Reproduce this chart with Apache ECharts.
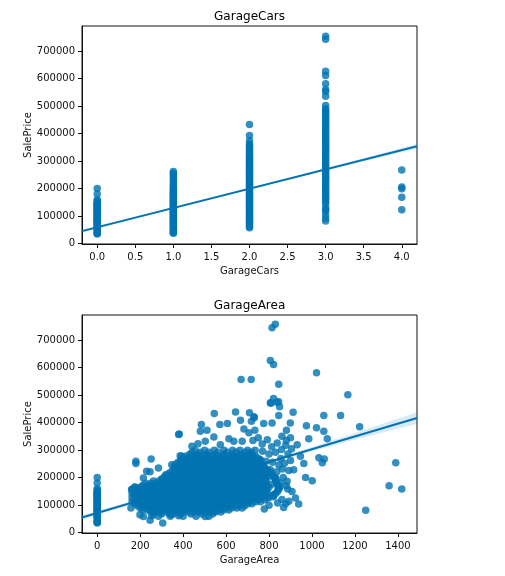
<!DOCTYPE html>
<html><head><meta charset="utf-8">
<script src="https://cdn.jsdelivr.net/npm/echarts@6/dist/echarts.min.js"></script>
<style>html,body{margin:0;padding:0;background:#fff;}#c{width:505px;height:576px;}</style>
</head><body><div id="c"></div>
<script>
// ---- tick labels ----
const carsTicks = [0, 0.5, 1, 1.5, 2, 2.5, 3, 3.5, 4];
const areaTicks = [0, 200, 400, 600, 800, 1000, 1200, 1400];
const priceTicks = [0, 100000, 200000, 300000, 400000, 500000, 600000, 700000];

// ---- SalePrice of houses without garage (GarageCars = 0, GarageArea = 0) ----
const noGaragePrices = [34900, 37900, 40000, 45000, 52000, 55000, 60000, 62500, 67000, 72500, 76000, 80000, 82000, 85000, 87000, 90000, 93500, 97000, 100000, 104000, 108000, 110000, 114000, 118000, 120000, 124000, 127000, 130000, 135000, 139000, 140000, 143000, 145000, 150000, 155000, 160000, 181000, 200500];

// ---- GarageCars columns ----
const cars1Prices = [37900, 40000, 45000, 50000, 55500, 60000, 64000, 68500, 72000, 76000, 80500, 84000, 88000, 92500, 96000, 100000, 104500, 108000, 112000, 116500, 120000, 124000, 128500, 132000, 136000, 140500, 144000, 148000, 152500, 156000, 160000, 165000, 170500, 175000, 180000, 185500, 190000, 195000, 200000, 207000, 214000, 220000, 228000, 235000, 242000, 250000, 256000, 262500];
const cars2Prices = [58300, 62000, 67000, 72500, 77000, 82000, 87500, 92000, 97000, 102500, 107000, 112000, 117500, 122000, 127000, 132500, 137000, 142000, 147500, 152000, 157000, 162500, 167000, 172000, 177500, 182000, 187000, 192500, 197000, 202000, 207500, 212000, 217000, 222500, 227000, 232000, 237500, 242000, 247000, 252500, 257000, 262000, 267500, 272000, 277000, 282500, 287000, 292000, 297500, 302000, 307000, 312500, 318000, 324000, 330500, 337000, 344000, 350000, 356000, 362000, 374500, 392700, 432800];
const cars3Prices = [82800, 92600, 104000, 119000, 123000, 131000, 145000, 153000, 162000, 168000, 175000, 182500, 189000, 196000, 203500, 210000, 217000, 224500, 231000, 238000, 245500, 252000, 259000, 266500, 273000, 280000, 287500, 294000, 301000, 308500, 315000, 322000, 329500, 336000, 343000, 350500, 357000, 364000, 371500, 378000, 385000, 392500, 399000, 406000, 413500, 420000, 427000, 434500, 441000, 448000, 455500, 462000, 469000, 476500, 483000, 490000, 502000, 536000, 553000, 560000, 581000, 611000, 627000, 742700, 753600];
const cars4Prices = [267600, 205600, 199400, 169200, 122900];

// ---- GarageArea cloud: dense core, one row per price level: [price, [areas]] ----
const areaCoreRows = [
 [300000, [455, 500, 545, 590, 630, 665, 700]],
 [292500, [442, 480, 520, 562, 605, 648, 690, 718]],
 [285000, [430, 470, 510, 550, 590, 630, 670, 710]],
 [277500, [412, 437, 462, 487, 512, 537, 562, 587, 612, 637, 662, 687, 712, 737]],
 [270000, [400, 425, 450, 475, 500, 525, 550, 575, 600, 625, 650, 675, 700, 725, 750]],
 [262500, [387, 412, 437, 462, 487, 512, 537, 562, 587, 612, 637, 662, 687, 712, 737, 762]],
 [255000, [375, 400, 425, 450, 475, 500, 525, 550, 575, 600, 625, 650, 675, 700, 725, 750]],
 [247500, [387, 412, 437, 462, 487, 512, 537, 562, 587, 612, 637, 662, 687, 712, 737, 762]],
 [240000, [375, 400, 425, 450, 475, 500, 525, 550, 575, 600, 625, 650, 675, 700, 725, 750, 775]],
 [232500, [362, 387, 412, 437, 462, 487, 512, 537, 562, 587, 612, 637, 662, 687, 712, 737, 762, 787]],
 [225000, [350, 375, 400, 425, 450, 475, 500, 525, 550, 575, 600, 625, 650, 675, 700, 725, 750, 775, 795]],
 [217500, [337, 362, 387, 412, 437, 462, 487, 512, 537, 562, 587, 612, 637, 662, 687, 712, 737, 762, 787, 810]],
 [210000, [325, 350, 375, 400, 425, 450, 475, 500, 525, 550, 575, 600, 625, 650, 675, 700, 725, 750, 775, 815]],
 [202500, [312, 337, 362, 387, 412, 437, 462, 487, 512, 537, 562, 587, 612, 637, 662, 687, 712, 737, 762, 787, 822]],
 [195000, [300, 325, 350, 375, 400, 425, 450, 475, 500, 525, 550, 575, 600, 625, 650, 675, 700, 725, 750, 775, 830]],
 [187500, [262, 287, 312, 337, 362, 387, 412, 437, 462, 487, 512, 537, 562, 587, 612, 637, 662, 687, 712, 737, 762, 787, 832]],
 [180000, [225, 250, 275, 300, 325, 350, 375, 400, 425, 450, 475, 500, 525, 550, 575, 600, 625, 650, 675, 700, 725, 750, 775, 835]],
 [172500, [212, 237, 262, 287, 312, 337, 362, 387, 412, 437, 462, 487, 512, 537, 562, 587, 612, 637, 662, 687, 712, 737, 762, 787, 842]],
 [165000, [175, 200, 225, 250, 275, 300, 325, 350, 375, 400, 425, 450, 475, 500, 525, 550, 575, 600, 625, 650, 675, 700, 725, 750, 775, 800, 850]],
 [157500, [162, 187, 212, 237, 262, 287, 312, 337, 362, 387, 412, 437, 462, 487, 512, 537, 562, 587, 612, 637, 662, 687, 712, 737, 762, 787, 845]],
 [150000, [175, 200, 225, 250, 275, 300, 325, 350, 375, 400, 425, 450, 475, 500, 525, 550, 575, 600, 625, 650, 675, 700, 725, 750, 775, 790, 840]],
 [142500, [162, 187, 212, 237, 262, 287, 312, 337, 362, 387, 412, 437, 462, 487, 512, 537, 562, 587, 612, 637, 662, 687, 712, 737, 762, 830]],
 [135000, [175, 200, 225, 250, 275, 300, 325, 350, 375, 400, 425, 450, 475, 500, 525, 550, 575, 600, 625, 650, 675, 700, 725, 750, 780, 820]],
 [127500, [162, 187, 212, 237, 262, 287, 312, 337, 362, 387, 412, 437, 462, 487, 512, 537, 562, 587, 612, 637, 662, 687, 712, 737, 762, 787]],
 [120000, [175, 200, 225, 250, 275, 300, 325, 350, 375, 400, 425, 450, 475, 500, 525, 550, 575, 600, 625, 650, 675, 700, 725, 750, 780]],
 [112500, [162, 187, 212, 237, 262, 287, 312, 337, 362, 387, 412, 437, 462, 487, 512, 537, 562, 587, 612, 637, 662, 687, 712, 737]],
 [105000, [175, 200, 225, 250, 275, 300, 325, 350, 375, 400, 425, 450, 475, 500, 525, 550, 575, 600, 625, 650, 675, 700, 720]],
 [97500, [187, 212, 237, 262, 287, 312, 337, 362, 387, 412, 437, 462, 487, 512, 537, 562, 587, 612, 637, 662, 687]],
 [90000, [200, 225, 250, 275, 300, 325, 350, 375, 400, 425, 450, 475, 500, 525, 550, 575, 600, 625, 650]],
 [82500, [212, 237, 262, 287, 312, 337, 362, 387, 412, 437, 462, 487, 512, 537, 562, 587, 612]],
 [75000, [250, 275, 300, 325, 350, 375, 400, 425, 450, 475, 500, 525, 550, 575]],
 [67500, [262, 300, 337, 387, 437, 487, 537]],
 [60000, [285, 340, 400, 460, 520]]
];

// ---- GarageArea cloud: scattered points [area, price] ----
const areaScatter = [
 [180, 259500], [180, 251000], [251, 268000], [285, 235000], [230, 223000], [246, 221000], [347, 247000], [360, 241000], [386, 280000], [379, 357000], [319, 211000], [301, 193000], [215, 199000], [176, 166000], [160, 156000], [157, 90000], [199, 65500], [246, 45000], [305, 35000], [347, 65500], [379, 62000], [254, 62000], [215, 59000],
 [545, 433000], [644, 439000], [709, 436000], [382, 359000], [485, 393000], [480, 369000], [511, 372000], [571, 393000], [606, 397000], [667, 409000], [718, 405000], [730, 421000], [683, 377000], [734, 372000], [706, 363000], [543, 348000], [503, 332000], [441, 314000], [469, 323000], [573, 320000], [613, 341000], [636, 332000], [675, 332000], [394, 278000], [363, 248000], [503, 59000], [535, 84000], [541, 78000], [472, 90000], [675, 90000], [625, 110000], [722, 126000], [722, 163000], [714, 229000], [355, 72000],
 [809, 470000], [837, 474000], [849, 458000], [845, 426000], [912, 438000], [1055, 426000], [974, 389000], [1021, 381000], [1055, 369000], [985, 341000], [1071, 341000], [731, 418000], [775, 397000], [814, 399000], [881, 372000], [899, 399000], [931, 320000], [946, 278000], [962, 251000], [1032, 272000], [1048, 254000], [970, 201000], [1001, 189000], [778, 86000], [892, 114000], [938, 104000], [923, 126000], [884, 187000], [887, 159000], [907, 150000], [798, 126000], [821, 138000], [744, 163000], [775, 211000], [829, 199000], [915, 229000],
 [1167, 501000], [1133, 426000], [1222, 385000], [1021, 581000], [1250, 82000], [1359, 171000], [1390, 254000], [1418, 159000], [1057, 268000], [829, 757000], [814, 745000], [806, 626000], [821, 611000], [670, 557000], [717, 557000], [845, 539000], [821, 488000], [806, 472000], [845, 476000],
 [725, 335000], [750, 345000], [768, 322000], [792, 338000], [812, 312000], [838, 326000], [858, 302000], [878, 318000], [735, 300000], [770, 296000], [800, 286000], [830, 292000], [855, 270000], [888, 286000], [728, 276000], [757, 266000], [786, 260000], [816, 256000], [846, 246000], [872, 252000], [900, 262000], [742, 240000], [776, 236000], [806, 229000], [836, 221000], [862, 231000], [892, 226000], [760, 212000], [800, 206000], [832, 196000], [866, 201000], [852, 181000], [880, 171000], [842, 161000], [812, 176000], [782, 190000], [762, 160000], [736, 150000], [790, 146000], [820, 131000], [860, 121000], [878, 106000], [868, 92000], [880, 335000], [860, 350000], [900, 345000], [905, 305000], [760, 112000], [800, 100000], [840, 108000]
];

// ---- regression lines and confidence bands ----
const carsLineX = [-0.2, 4.2];
const carsLineY = [45600, 354000];
const carsCiX = [-0.2, 0.5, 1.5, 2.5, 3.0, 3.5, 4.2];
const carsCiLow = [39600, 91150, 162550, 232050, 266100, 299450, 345000];
const carsCiHigh = [51600, 98150, 166950, 237650, 273700, 310450, 363000];

const areaLineX = [-70.9, 1488.9];
const areaLineY = [55000, 417000];
const areaCiX = [-70.9, 0, 400, 800, 1000, 1200, 1488.9];
const areaCiLow = [47000, 64500, 161300, 253100, 296000, 337400, 395900];
const areaCiHigh = [63000, 78500, 167300, 261100, 311000, 362400, 437900];

// ---- build data ----
const carsColumns = [[0, noGaragePrices], [1, cars1Prices], [2, cars2Prices], [3, cars3Prices], [4, cars4Prices]];
const carsData = [];
carsColumns.forEach(([c, prices]) => prices.forEach(p => carsData.push([c, p])));
const areaData = [];
noGaragePrices.forEach(p => areaData.push([0, p]));
areaCoreRows.forEach(([p, areas]) => areas.forEach(a => areaData.push([a, p])));
areaScatter.forEach(pt => areaData.push(pt));

const BLUE = '#0173B2';
const TXT = '#111';
const FONT = 'DejaVu Sans';

function xAxisOf(gi, min, max, ticks, fmt, name) {
  return {
    type: 'value', gridIndex: gi, min: min, max: max,
    name: name, nameLocation: 'middle', nameGap: 22, nameMoveOverlap: false,
    nameTextStyle: { fontSize: 10, color: TXT, fontFamily: FONT },
    axisLine: { show: true, onZero: false, lineStyle: { color: TXT, width: 1 } },
    axisTick: { show: true, length: 4, customValues: ticks, lineStyle: { color: TXT, width: 1 } },
    axisLabel: { customValues: ticks, formatter: fmt, fontSize: 10, color: TXT, fontFamily: FONT, margin: 8 },
    splitLine: { show: false }
  };
}
function yAxisOf(gi) {
  return {
    type: 'value', gridIndex: gi, min: -1105, max: 791005,
    name: 'SalePrice', nameLocation: 'middle', nameGap: 49, nameMoveOverlap: false,
    nameTextStyle: { fontSize: 10, color: TXT, fontFamily: FONT },
    axisLine: { show: true, onZero: false, lineStyle: { color: TXT, width: 1 } },
    axisTick: { show: true, length: 4, customValues: priceTicks, lineStyle: { color: TXT, width: 1 } },
    axisLabel: { customValues: priceTicks, formatter: v => String(Math.round(v)), fontSize: 10, color: TXT, fontFamily: FONT, margin: 7 },
    splitLine: { show: false }
  };
}
function bandSeries(gi, xs, lows, highs) {
  return {
    type: 'custom', xAxisIndex: gi, yAxisIndex: gi, z: 3, silent: true, clip: true,
    data: [[xs[0], lows[0]]],
    renderItem: function (params, api) {
      const pts = [];
      for (let i = 0; i < xs.length; i++) pts.push(api.coord([xs[i], highs[i]]));
      for (let i = xs.length - 1; i >= 0; i--) pts.push(api.coord([xs[i], lows[i]]));
      return { type: 'polygon', shape: { points: pts }, style: { fill: 'rgba(1,115,178,0.15)' } };
    }
  };
}
function lineSeries(gi, xs, ys) {
  return {
    type: 'line', xAxisIndex: gi, yAxisIndex: gi, z: 4, silent: true,
    data: xs.map((x, i) => [x, ys[i]]), showSymbol: false, symbol: 'none',
    lineStyle: { color: BLUE, width: 2 }
  };
}
function scatterSeries(gi, data) {
  return {
    type: 'scatter', xAxisIndex: gi, yAxisIndex: gi, z: 2, silent: true,
    data: data, symbol: 'circle', symbolSize: 7.5,
    itemStyle: { color: BLUE, opacity: 0.8 }
  };
}

const chart = echarts.init(document.getElementById('c'), null, { renderer: 'canvas' });
chart.setOption({
  animation: false,
  backgroundColor: '#fff',
  textStyle: { fontFamily: FONT },
  title: [
    { text: 'GarageCars', left: 244.5, top: 6, textAlign: 'center', textStyle: { fontSize: 12, fontWeight: 'normal', color: '#000', fontFamily: FONT } },
    { text: 'GarageArea', left: 244.5, top: 295, textAlign: 'center', textStyle: { fontSize: 12, fontWeight: 'normal', color: '#000', fontFamily: FONT } }
  ],
  grid: [
    { left: 82, top: 26, width: 335, height: 218, show: true, borderColor: TXT, borderWidth: 1, backgroundColor: 'transparent' },
    { left: 82, top: 315, width: 335, height: 218, show: true, borderColor: TXT, borderWidth: 1, backgroundColor: 'transparent' }
  ],
  xAxis: [
    xAxisOf(0, -0.2, 4.2, carsTicks, v => v.toFixed(1), 'GarageCars'),
    xAxisOf(1, -70.9, 1488.9, areaTicks, v => String(Math.round(v)), 'GarageArea')
  ],
  yAxis: [yAxisOf(0), yAxisOf(1)],
  series: [
    scatterSeries(0, carsData),
    bandSeries(0, carsCiX, carsCiLow, carsCiHigh),
    lineSeries(0, carsLineX, carsLineY),
    scatterSeries(1, areaData),
    bandSeries(1, areaCiX, areaCiLow, areaCiHigh),
    lineSeries(1, areaLineX, areaLineY)
  ]
});
</script>
</body></html>
